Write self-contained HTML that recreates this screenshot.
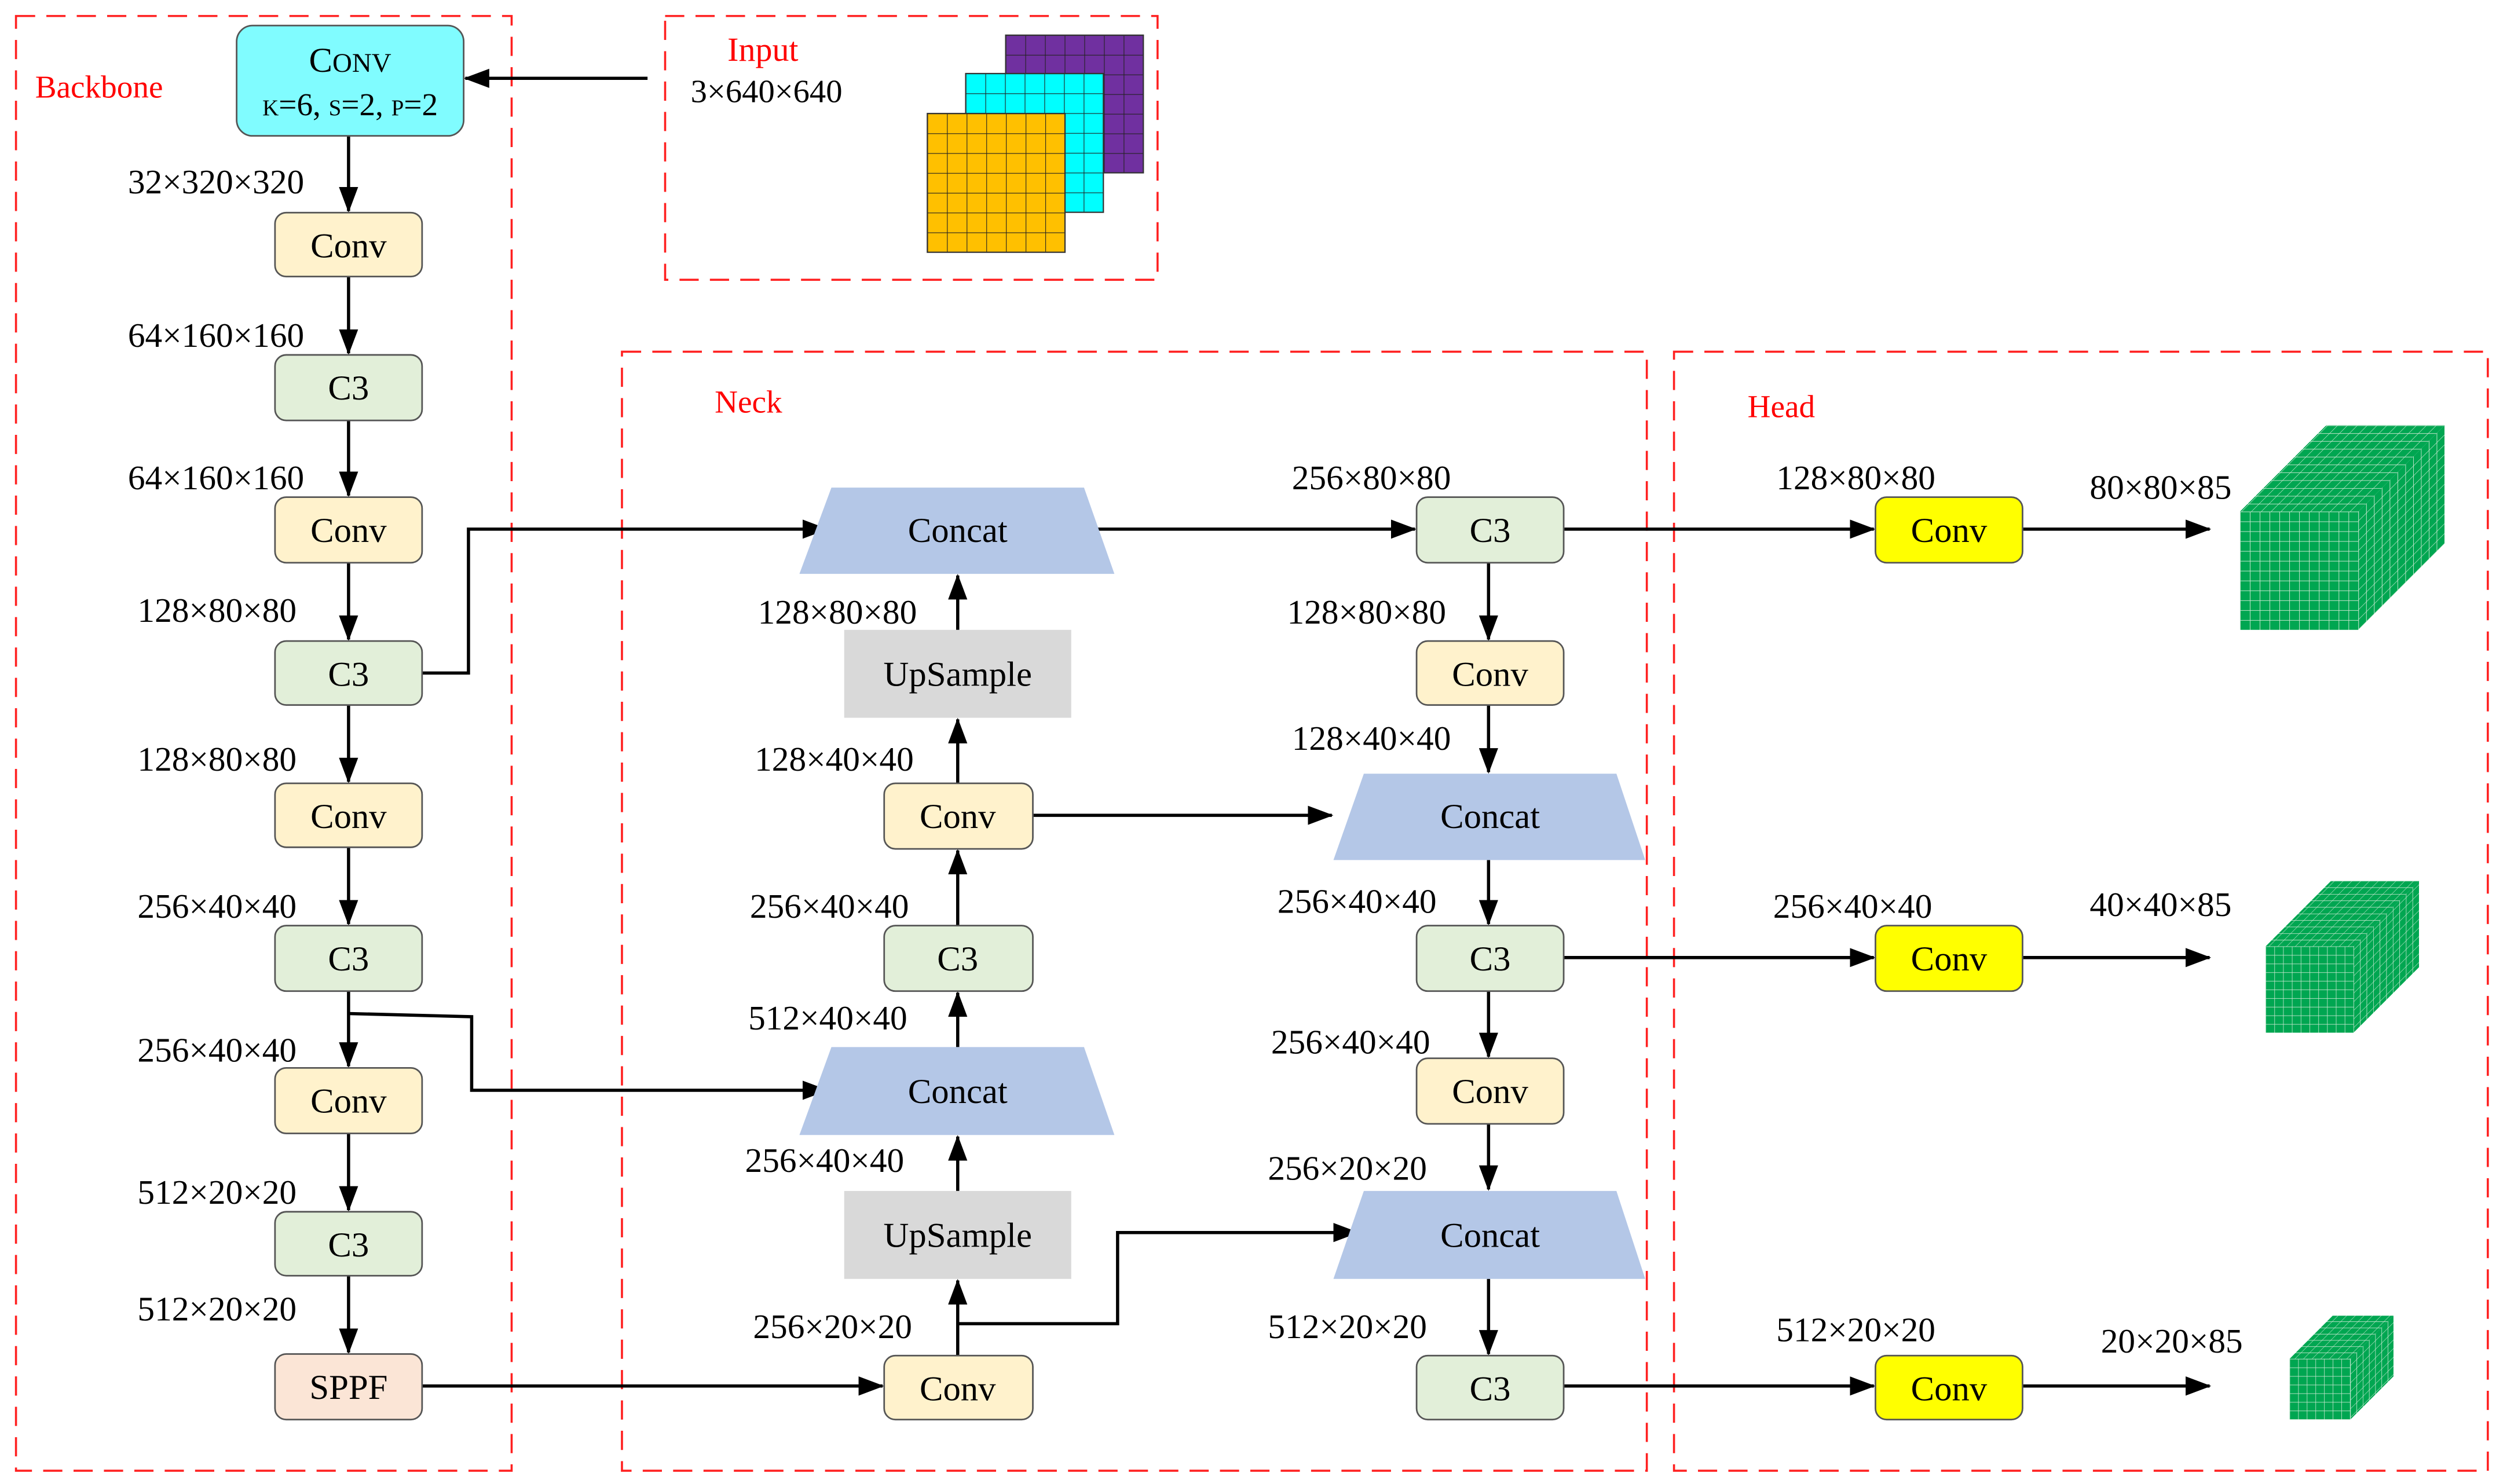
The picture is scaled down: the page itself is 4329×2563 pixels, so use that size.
<!DOCTYPE html>
<html><head><meta charset="utf-8"><style>
html,body{margin:0;padding:0;background:#fff}
svg{display:block}
text{font-family:"Liberation Serif",serif;fill:#000}
</style></head><body>
<svg width="4329" height="2563" viewBox="0 0 1568 928.3" preserveAspectRatio="none" xmlns="http://www.w3.org/2000/svg">
<defs>
<marker id="a" markerUnits="userSpaceOnUse" markerWidth="16" markerHeight="12" refX="15" refY="6" orient="auto"><path d="M0,0 L16,6 L0,12 z" fill="#000"/></marker>
<pattern id="f1" patternUnits="userSpaceOnUse" x="1401" y="320" width="6.17" height="6.17"><rect width="6.17" height="6.17" fill="#00a651"/><path d="M0,0H6.17M0,0V6.17" stroke="#c8e6cf" stroke-width="0.7"/></pattern>
<pattern id="t1" patternUnits="userSpaceOnUse" x="1401" y="320" width="6.17" height="4.9" patternTransform="skewX(-45)"><rect width="6.17" height="4.9" fill="#00a651"/><path d="M0,0H6.17M0,0V4.9" stroke="#c8e6cf" stroke-width="0.7"/></pattern>
<pattern id="s1" patternUnits="userSpaceOnUse" x="1475" y="320" width="4.9" height="6.17" patternTransform="skewY(-45)"><rect width="4.9" height="6.17" fill="#00a651"/><path d="M0,0H4.9M0,0V6.17" stroke="#c8e6cf" stroke-width="0.7"/></pattern>
<pattern id="f2" patternUnits="userSpaceOnUse" x="1417" y="592" width="5.5" height="5.4"><rect width="5.5" height="5.4" fill="#00a651"/><path d="M0,0H5.5M0,0V5.4" stroke="#c8e6cf" stroke-width="0.6"/></pattern>
<pattern id="t2" patternUnits="userSpaceOnUse" x="1417" y="592" width="5.5" height="4.1" patternTransform="skewX(-45)"><rect width="5.5" height="4.1" fill="#00a651"/><path d="M0,0H5.5M0,0V4.1" stroke="#c8e6cf" stroke-width="0.6"/></pattern>
<pattern id="s2" patternUnits="userSpaceOnUse" x="1472" y="592" width="4.1" height="5.4" patternTransform="skewY(-45)"><rect width="4.1" height="5.4" fill="#00a651"/><path d="M0,0H4.1M0,0V5.4" stroke="#c8e6cf" stroke-width="0.6"/></pattern>
<pattern id="f3" patternUnits="userSpaceOnUse" x="1432" y="850" width="5.4" height="5.4"><rect width="5.4" height="5.4" fill="#00a651"/><path d="M0,0H5.4M0,0V5.4" stroke="#c8e6cf" stroke-width="0.6"/></pattern>
<pattern id="t3" patternUnits="userSpaceOnUse" x="1432" y="850" width="5.4" height="3.9" patternTransform="skewX(-45)"><rect width="5.4" height="3.9" fill="#00a651"/><path d="M0,0H5.4M0,0V3.9" stroke="#c8e6cf" stroke-width="0.6"/></pattern>
<pattern id="s3" patternUnits="userSpaceOnUse" x="1470" y="850" width="3.9" height="5.4" patternTransform="skewY(-45)"><rect width="3.9" height="5.4" fill="#00a651"/><path d="M0,0H3.9M0,0V5.4" stroke="#c8e6cf" stroke-width="0.6"/></pattern>
<pattern id="gy" patternUnits="userSpaceOnUse" x="580" y="71" width="12.3" height="12.4"><rect width="12.3" height="12.4" fill="#ffc000"/><path d="M0,0H12.3M0,0V12.4" stroke="#222" stroke-width="0.8"/></pattern>
<pattern id="gc" patternUnits="userSpaceOnUse" x="604" y="46" width="12.3" height="12.4"><rect width="12.3" height="12.4" fill="#00ffff"/><path d="M0,0H12.3M0,0V12.4" stroke="#222" stroke-width="0.8"/></pattern>
<pattern id="gp" patternUnits="userSpaceOnUse" x="629" y="22" width="12.3" height="12.3"><rect width="12.3" height="12.3" fill="#7030a0"/><path d="M0,0H12.3M0,0V12.3" stroke="#222" stroke-width="0.8"/></pattern>
</defs>

<g fill="none" stroke="#ff2020" stroke-width="1.3" stroke-dasharray="12,7">
<rect x="10" y="10" width="310" height="910"/>
<rect x="416" y="10" width="308" height="165"/>
<rect x="389" y="220" width="641" height="700"/>
<rect x="1047" y="220" width="509" height="700"/>
</g>
<g font-size="20">
<text x="22" y="61" style="fill:#f00">Backbone</text>
<text x="455" y="38" style="fill:#f00" font-size="21">Input</text>
<text x="447" y="258" style="fill:#f00">Neck</text>
<text x="1093" y="261" style="fill:#f00">Head</text>
</g>

<rect x="629" y="22" width="86.1" height="86.1" fill="url(#gp)" stroke="#333" stroke-width="0.8"/>
<rect x="604" y="46" width="86.1" height="86.8" fill="url(#gc)" stroke="#333" stroke-width="0.8"/>
<rect x="580" y="71" width="86.1" height="86.8" fill="url(#gy)" stroke="#333" stroke-width="0.8"/>
<text x="432" y="64" font-size="20.5">3×640×640</text>

<g stroke="#000" stroke-width="2" fill="none">
<line x1="405" y1="49" x2="291" y2="49" marker-end="url(#a)"/>
<line x1="218" y1="85" x2="218" y2="132" marker-end="url(#a)"/>
<line x1="218" y1="173" x2="218" y2="221" marker-end="url(#a)"/>
<line x1="218" y1="263" x2="218" y2="310" marker-end="url(#a)"/>
<line x1="218" y1="352" x2="218" y2="400" marker-end="url(#a)"/>
<line x1="218" y1="441" x2="218" y2="489" marker-end="url(#a)"/>
<line x1="218" y1="530" x2="218" y2="578" marker-end="url(#a)"/>
<line x1="218" y1="620" x2="218" y2="667" marker-end="url(#a)"/>
<line x1="218" y1="709" x2="218" y2="757" marker-end="url(#a)"/>
<line x1="218" y1="798" x2="218" y2="846" marker-end="url(#a)"/>
<polyline points="264,421 293,421 293,331 517,331" marker-end="url(#a)"/>
<polyline points="218,634 295,636 295,682 517,682" marker-end="url(#a)"/>
<line x1="264" y1="867" x2="552" y2="867" marker-end="url(#a)"/>
<line x1="599" y1="848" x2="599" y2="801" marker-end="url(#a)"/>
<polyline points="599,828 699,828 699,771 849,771" marker-end="url(#a)"/>
<line x1="599" y1="745" x2="599" y2="711" marker-end="url(#a)"/>
<line x1="599" y1="655" x2="599" y2="621" marker-end="url(#a)"/>
<line x1="599" y1="579" x2="599" y2="532" marker-end="url(#a)"/>
<line x1="599" y1="490" x2="599" y2="450" marker-end="url(#a)"/>
<line x1="599" y1="394" x2="599" y2="360" marker-end="url(#a)"/>
<line x1="646" y1="510" x2="833" y2="510" marker-end="url(#a)"/>
<line x1="680" y1="331" x2="885" y2="331" marker-end="url(#a)"/>
<line x1="931" y1="352" x2="931" y2="400" marker-end="url(#a)"/>
<line x1="931" y1="441" x2="931" y2="483" marker-end="url(#a)"/>
<line x1="931" y1="538" x2="931" y2="578" marker-end="url(#a)"/>
<line x1="931" y1="620" x2="931" y2="661" marker-end="url(#a)"/>
<line x1="931" y1="703" x2="931" y2="744" marker-end="url(#a)"/>
<line x1="931" y1="800" x2="931" y2="847" marker-end="url(#a)"/>
<line x1="978" y1="331" x2="1172" y2="331" marker-end="url(#a)"/>
<line x1="978" y1="599" x2="1172" y2="599" marker-end="url(#a)"/>
<line x1="978" y1="867" x2="1172" y2="867" marker-end="url(#a)"/>
<line x1="1265" y1="331" x2="1382" y2="331" marker-end="url(#a)"/>
<line x1="1265" y1="599" x2="1382" y2="599" marker-end="url(#a)"/>
<line x1="1265" y1="867" x2="1382" y2="867" marker-end="url(#a)"/>
</g>

<g stroke="#555" stroke-width="1">
<rect x="148" y="16" width="142" height="69" rx="10" fill="#80fcff"/>
<rect x="172" y="133" width="92" height="40" rx="7" fill="#fff2cc"/>
<rect x="172" y="222" width="92" height="41" rx="7" fill="#e2efd9"/>
<rect x="172" y="311" width="92" height="41" rx="7" fill="#fff2cc"/>
<rect x="172" y="401" width="92" height="40" rx="7" fill="#e2efd9"/>
<rect x="172" y="490" width="92" height="40" rx="7" fill="#fff2cc"/>
<rect x="172" y="579" width="92" height="41" rx="7" fill="#e2efd9"/>
<rect x="172" y="668" width="92" height="41" rx="7" fill="#fff2cc"/>
<rect x="172" y="758" width="92" height="40" rx="7" fill="#e2efd9"/>
<rect x="172" y="847" width="92" height="41" rx="7" fill="#fbe5d6"/>
<rect x="553" y="490" width="93" height="41" rx="7" fill="#fff2cc"/>
<rect x="553" y="579" width="93" height="41" rx="7" fill="#e2efd9"/>
<rect x="553" y="848" width="93" height="40" rx="7" fill="#fff2cc"/>
<rect x="886" y="311" width="92" height="41" rx="7" fill="#e2efd9"/>
<rect x="886" y="401" width="92" height="40" rx="7" fill="#fff2cc"/>
<rect x="886" y="579" width="92" height="41" rx="7" fill="#e2efd9"/>
<rect x="886" y="662" width="92" height="41" rx="7" fill="#fff2cc"/>
<rect x="886" y="848" width="92" height="40" rx="7" fill="#e2efd9"/>
<rect x="1173" y="311" width="92" height="41" rx="7" fill="#ffff00"/>
<rect x="1173" y="579" width="92" height="41" rx="7" fill="#ffff00"/>
<rect x="1173" y="848" width="92" height="40" rx="7" fill="#ffff00"/>
</g>
<g fill="#d9d9d9">
<rect x="528" y="394" width="142" height="55"/>
<rect x="528" y="745" width="142" height="55"/>
</g>
<g fill="#b4c7e7">
<polygon points="520,305 678,305 697,359 500,359"/>
<polygon points="520,655 678,655 697,710 500,710"/>
<polygon points="853,484 1011,484 1029,538 834,538"/>
<polygon points="853,745 1011,745 1029,800 834,800"/>
</g>

<g font-size="22" text-anchor="middle">
<text x="219" y="45"><tspan font-size="22">C</tspan><tspan font-size="17">ONV</tspan></text>
<text x="219" y="72" font-size="20" style="font-variant:small-caps">k=6, s=2, p=2</text>
<text x="218" y="161">Conv</text>
<text x="218" y="250">C3</text>
<text x="218" y="339">Conv</text>
<text x="218" y="429">C3</text>
<text x="218" y="518">Conv</text>
<text x="218" y="607">C3</text>
<text x="218" y="696">Conv</text>
<text x="218" y="786">C3</text>
<text x="218" y="875">SPPF</text>
<text x="599" y="339">Concat</text>
<text x="599" y="429">UpSample</text>
<text x="599" y="518">Conv</text>
<text x="599" y="607">C3</text>
<text x="599" y="690">Concat</text>
<text x="599" y="780">UpSample</text>
<text x="599" y="876">Conv</text>
<text x="932" y="339">C3</text>
<text x="932" y="429">Conv</text>
<text x="932" y="518">Concat</text>
<text x="932" y="607">C3</text>
<text x="932" y="690">Conv</text>
<text x="932" y="780">Concat</text>
<text x="932" y="876">C3</text>
<text x="1219" y="339">Conv</text>
<text x="1219" y="607">Conv</text>
<text x="1219" y="876">Conv</text>
</g>

<g font-size="21.5">
<text x="80" y="121">32×320×320</text>
<text x="80" y="217">64×160×160</text>
<text x="80" y="306">64×160×160</text>
<text x="86" y="389">128×80×80</text>
<text x="86" y="482">128×80×80</text>
<text x="86" y="574">256×40×40</text>
<text x="86" y="664">256×40×40</text>
<text x="86" y="753">512×20×20</text>
<text x="86" y="826">512×20×20</text>
<text x="474" y="390">128×80×80</text>
<text x="472" y="482">128×40×40</text>
<text x="469" y="574">256×40×40</text>
<text x="468" y="644">512×40×40</text>
<text x="466" y="733">256×40×40</text>
<text x="471" y="837">256×20×20</text>
<text x="808" y="306">256×80×80</text>
<text x="805" y="390">128×80×80</text>
<text x="808" y="469">128×40×40</text>
<text x="799" y="571">256×40×40</text>
<text x="795" y="659">256×40×40</text>
<text x="793" y="738">256×20×20</text>
<text x="793" y="837">512×20×20</text>
<text x="1111" y="306">128×80×80</text>
<text x="1109" y="574">256×40×40</text>
<text x="1111" y="839">512×20×20</text>
<text x="1307" y="312">80×80×85</text>
<text x="1307" y="573">40×40×85</text>
<text x="1314" y="846">20×20×85</text>
</g>

<polygon points="1401,320 1455,266 1529,266 1475,320" fill="url(#t1)"/>
<polygon points="1475,320 1529,266 1529,340 1475,394" fill="url(#s1)"/>
<rect x="1401" y="320" width="74" height="74" fill="url(#f1)"/>
<polygon points="1417,592 1458,551 1513,551 1472,592" fill="url(#t2)"/>
<polygon points="1472,592 1513,551 1513,605 1472,646" fill="url(#s2)"/>
<rect x="1417" y="592" width="55" height="54" fill="url(#f2)"/>
<polygon points="1432,850 1459,823 1497,823 1470,850" fill="url(#t3)"/>
<polygon points="1470,850 1497,823 1497,861 1470,888" fill="url(#s3)"/>
<rect x="1432" y="850" width="38" height="38" fill="url(#f3)"/>
</svg>
</body></html>
